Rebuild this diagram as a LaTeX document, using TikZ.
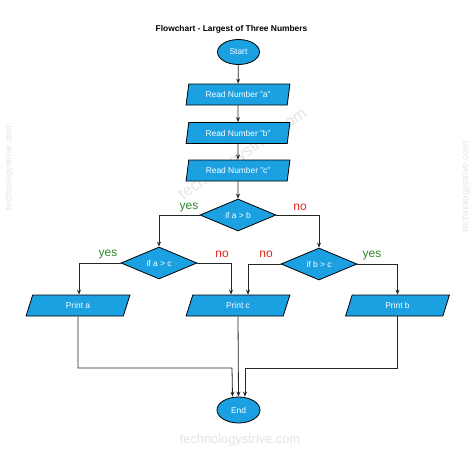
\documentclass[tikz,border=0pt]{standalone}
\usepackage{fontspec}
\setmainfont{Liberation Sans}
\usetikzlibrary{shapes.geometric,arrows.meta}
\definecolor{boxblue}{HTML}{1BA1E2}
\definecolor{yesgreen}{HTML}{2E8B2E}
\definecolor{nored}{HTML}{E3241B}
\definecolor{wm}{HTML}{E4E4E4}
\tikzset{
  base/.style={draw=black, line width=0.8pt, fill=boxblue, text=white, font=\fontsize{8.4}{10}\selectfont, inner sep=0pt},
  term/.style={base, ellipse, minimum width=42pt, minimum height=25pt},
  iobox/.style={base, trapezium, trapezium left angle=74, trapezium right angle=106, trapezium stretches=true, minimum width=104pt, minimum height=21pt},
  decision/.style={base, diamond, minimum width=76pt, minimum height=32pt},
  conn/.style={draw=black!85, line width=0.8pt, -{Stealth[length=5pt,width=4pt]}},
  yeslbl/.style={text=yesgreen, font=\fontsize{12}{14}\selectfont},
  nolbl/.style={text=nored, font=\fontsize{12}{14}\selectfont},
  wmark/.style={text=wm}
}
\begin{document}
\begin{tikzpicture}[x=1pt,y=-1pt]
\useasboundingbox[fill=white] (0,0) rectangle (474,448);
% watermarks
\node[wmark, font=\fontsize{12.8}{14}\selectfont] (wm1) at (240,440) {technologystrive.com};
\node[wmark, font=\fontsize{9}{11}\selectfont, rotate=90] (wm2) at (9,168) {technologystrive.com};
\node[wmark, font=\fontsize{9.6}{11}\selectfont, rotate=90] (wm3) at (466,187) {technologystrive.com};
\node[wmark, font=\fontsize{16}{18}\selectfont, rotate=34] (wm4) at (243,155) {technologystrive.com};
% title
\node[font=\bfseries\fontsize{8.4}{10}\selectfont] (title) at (231.5,29) {Flowchart - Largest of Three Numbers};
% nodes
\node[term] (start) at (238.5,52) {Start};
\node[iobox] (ra) at (238,94.5) {Read Number "a"};
\node[iobox] (rb) at (238,133) {Read Number "b"};
\node[iobox] (rc) at (238,170.5) {Read Number "c"};
\node[decision] (d1) at (238,215) {if a > b};
\node[decision] (d2) at (159,263) {if a > c};
\node[decision] (d3) at (319,264) {if b > c};
\node[iobox] (pa) at (78,305.5) {Print a};
\node[iobox] (pc) at (238,305.5) {Print c};
\node[iobox] (pb) at (397.5,305.5) {Print b};
\node[term, minimum width=43pt, minimum height=26pt] (end) at (238.5,410) {End};
\coordinate (j) at (0,368);
% connectors
\draw[conn] (start) -- (ra);
\draw[conn] (ra) -- (rb);
\draw[conn] (rb) -- (rc);
\draw[conn] (rc) -- (d1);
\draw[conn] (d1.west) -| (d2.north);
\draw[conn] (d1.east) -| (d3.north);
\draw[conn] (d2.west) -| (pa.north -| 79,0);
\draw[conn] (d2.east) -| ([xshift=-7pt]pc.north);
\draw[conn] (d3.west) -| ([xshift=10pt]pc.north);
\draw[conn] (d3.east) -| (pb.north);
\draw[conn] (pa.south) |- (j -| 232,0) -- ([xshift=-6pt]end.north);
\draw[conn] (pc.south) -- (end.north);
\draw[conn] (pb.south) |- (j -| 245,0) -- ([xshift=6.5pt]end.north);
% labels
\node[yeslbl] (l1) at (189,208) {yes};
\node[nolbl] (l2) at (300,207) {no};
\node[yeslbl] (l3) at (108,255) {yes};
\node[nolbl] (l4) at (222,254) {no};
\node[nolbl] (l5) at (266,254) {no};
\node[yeslbl] (l6) at (372,256) {yes};
\end{tikzpicture}
\end{document}
